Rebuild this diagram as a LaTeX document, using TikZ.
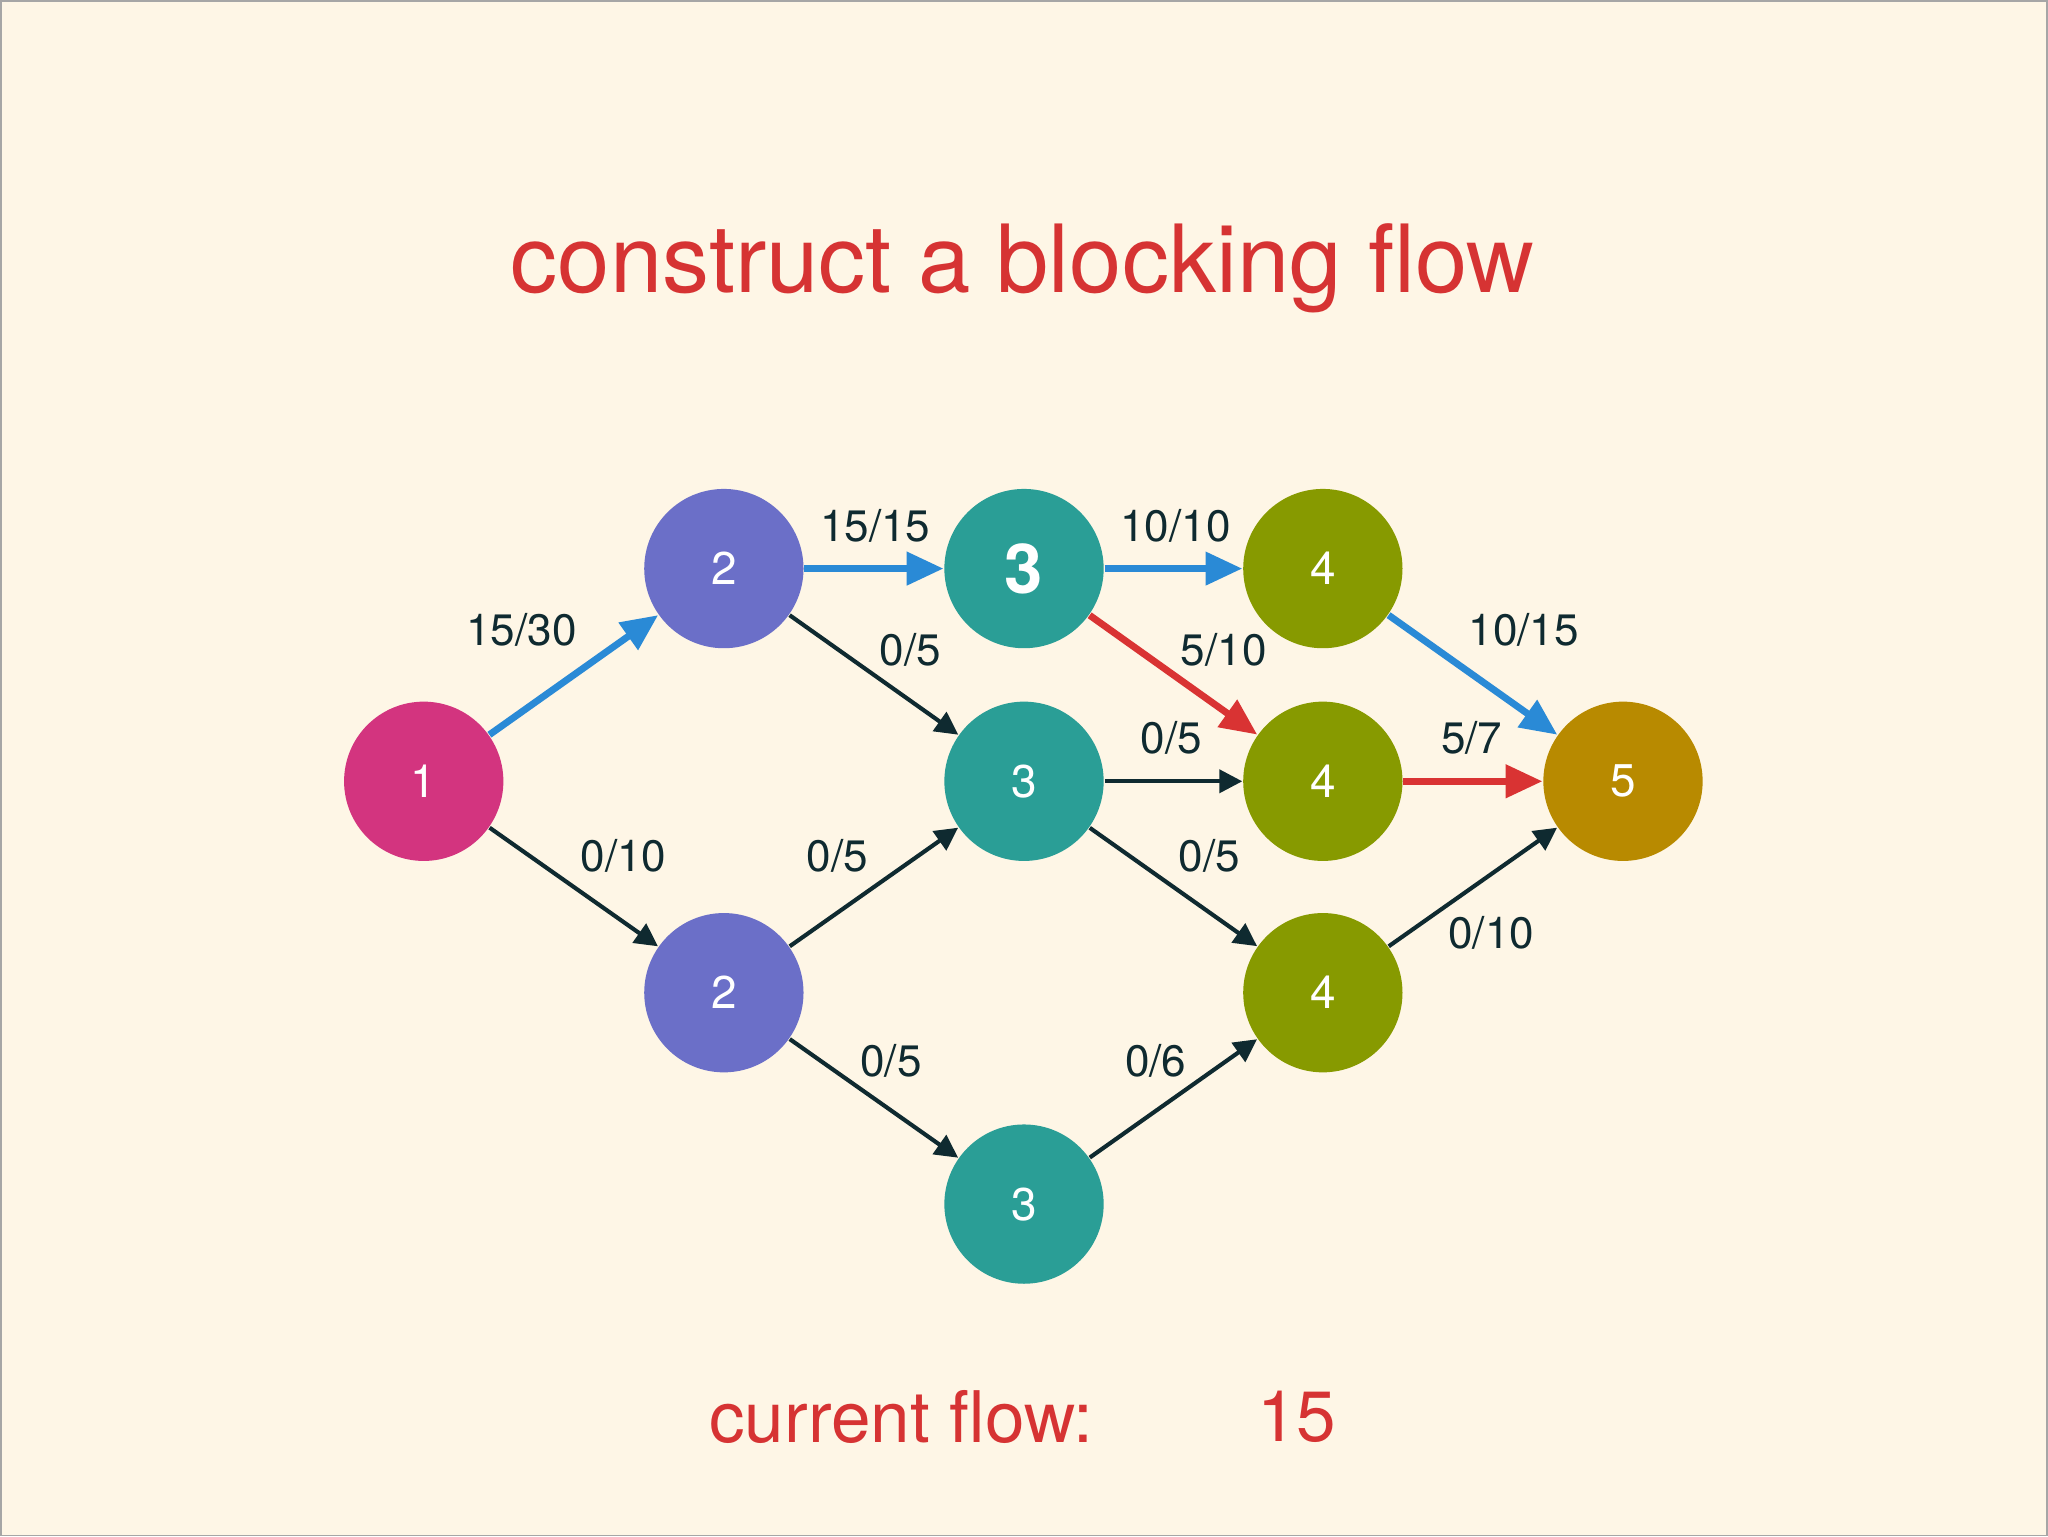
\documentclass[tikz,border=0pt]{standalone}
\usepackage{fontspec}
\setmainfont{TeX Gyre Heros}
\usetikzlibrary{arrows.meta}
\definecolor{bg}{HTML}{FEF6E6}
\definecolor{cpink}{HTML}{D3347F}
\definecolor{cpurp}{HTML}{6B6FC8}
\definecolor{cteal}{HTML}{2A9E96}
\definecolor{colive}{HTML}{879A00}
\definecolor{cgold}{HTML}{B88A00}
\definecolor{eblue}{HTML}{2A8AD6}
\definecolor{ered}{HTML}{D93333}
\definecolor{edark}{HTML}{0F2A30}
\definecolor{tred}{HTML}{D63333}
\begin{document}
\begin{tikzpicture}[x=0.01cm,y=-0.01cm,
  nd/.style={circle,minimum size=1.22cm,inner sep=0pt,text=white,font=\fontsize{10}{12}\selectfont},
  lb/.style={font=\fontsize{9.6}{11}\selectfont,text=edark},
  dk/.style={draw=edark,line width=0.9pt,-{Triangle[length=5pt,width=5pt]}},
  bl/.style={draw=eblue,line width=1.5pt,-{Triangle[length=8pt,width=7pt]}},
  rd/.style={draw=ered,line width=1.5pt,-{Triangle[length=8pt,width=7pt]}}]
\fill[bg,draw=gray!70] (0,0) rectangle (1568,1176);
\useasboundingbox (0,0) rectangle (1568,1176);
\node[text=tred,font=\fontsize{20.5}{24}\selectfont] (title) at (783,205) {construct a blocking flow};
\node[nd,fill=cpink] (n1) at (324,598) {1};
\node[nd,fill=cpurp] (a2) at (554,435) {2};
\node[nd,fill=cpurp] (b2) at (554,760) {2};
\node[nd,fill=cteal,font=\fontsize{15}{18}\selectfont\bfseries] (a3) at (784,435) {3};
\node[nd,fill=cteal] (b3) at (784,598) {3};
\node[nd,fill=cteal] (c3) at (784,922) {3};
\node[nd,fill=colive] (a4) at (1013,435) {4};
\node[nd,fill=colive] (b4) at (1013,598) {4};
\node[nd,fill=colive] (c4) at (1013,760) {4};
\node[nd,fill=cgold] (t5) at (1243,598) {5};
\draw[bl] (n1) -- (a2);
\draw[dk] (n1) -- (b2);
\draw[bl] (a2) -- (a3);
\draw[dk] (a2) -- (b3);
\draw[dk] (b2) -- (b3);
\draw[dk] (b2) -- (c3);
\draw[bl] (a3) -- (a4);
\draw[rd] (a3) -- (b4);
\draw[dk] (b3) -- (b4);
\draw[dk] (b3) -- (c4);
\draw[dk] (c3) -- (c4);
\draw[bl] (a4) -- (t5);
\draw[rd] (b4) -- (t5);
\draw[dk] (c4) -- (t5);
\node[lb] (l1) at (399,482) {15/30};
\node[lb] (l2) at (477,655) {0/10};
\node[lb] (l3) at (670,402) {15/15};
\node[lb] (l4) at (697,497) {0/5};
\node[lb] (l5) at (641,655) {0/5};
\node[lb] (l6) at (682,812) {0/5};
\node[lb] (l7) at (900,402) {10/10};
\node[lb] (l8) at (937,497) {5/10};
\node[lb] (l9) at (897,565) {0/5};
\node[lb] (l10) at (926,655) {0/5};
\node[lb] (l11) at (885,812) {0/6};
\node[lb] (l12) at (1167,482) {10/15};
\node[lb] (l13) at (1127,565) {5/7};
\node[lb] (l14) at (1142,714) {0/10};
\node[text=tred,font=\fontsize{15.5}{18}\selectfont] (cf) at (690,1085) {current flow:};
\node[text=tred,font=\fontsize{15.5}{18}\selectfont] (cv) at (993,1085) {15};
\end{tikzpicture}
\end{document}
